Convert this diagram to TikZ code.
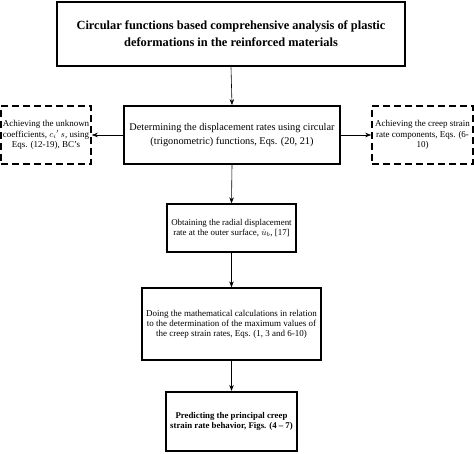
\documentclass[tikz,border=0pt]{standalone}
\usepackage{fontspec}
\setmainfont{Liberation Serif}
\usetikzlibrary{arrows.meta}
\tikzset{
  box/.style={draw, inner sep=1pt, align=center, anchor=center},
  dbox/.style={draw, dashed, dash pattern=on 7pt off 4pt, line width=1.6pt, inner sep=1pt, align=center},
  conn/.style={-{Stealth[length=6pt,width=4.5pt]}, line width=0.6pt}
}
\begin{document}
\begin{tikzpicture}[x=1pt,y=-1pt]
\useasboundingbox (0,0) rectangle (474,453);
\node[box, line width=2.6pt, minimum width=348pt, minimum height=64pt, font=\fontsize{12.4}{17}\selectfont\bfseries] (top) at (231,34) {Circular functions based comprehensive analysis of plastic\\deformations in the reinforced materials};
\node[box, line width=1.8pt, minimum width=216pt, minimum height=58pt, font=\fontsize{10.3}{14}\selectfont] (disp) at (232,135) {Determining the displacement rates using circular\\(trigonometric) functions, Eqs. (20, 21)};
\node[dbox, minimum width=90pt, minimum height=58pt, font=\fontsize{9}{10.2}\selectfont] (left) at (46,135) {Achieving the unknown\\coefficients, $c_i{}'\,s$, using\\Eqs. (12-19), BC's};
\node[dbox, minimum width=101pt, minimum height=58pt, font=\fontsize{9}{10.2}\selectfont] (right) at (422.5,135) {Achieving the creep strain\\rate components, Eqs. (6-\\10)};
\node[box, line width=1.3pt, minimum width=129pt, minimum height=48pt, font=\fontsize{8.9}{10.4}\selectfont] (radial) at (231.5,228) {Obtaining the radial displacement\\rate at the outer surface, $\dot{u}_b$, [17]};
\node[box, line width=1.3pt, minimum width=179pt, minimum height=72pt, font=\fontsize{9}{10}\selectfont] (math) at (231.5,324) {Doing the mathematical calculations in relation\\to the determination of the maximum values of\\the creep strain rates, Eqs. (1, 3 and 6-10)};
\node[box, line width=2.2pt, minimum width=131pt, minimum height=59pt, font=\fontsize{8.8}{10.4}\selectfont\bfseries] (pred) at (231.5,421.5) {Predicting the principal creep\\strain rate behavior, Figs. (4 -- 7)};
\draw[conn] (top.south) -- (disp.north);
\draw[conn] (disp.west) -- (left.east);
\draw[conn] (disp.east) -- (right.west);
\draw[conn] (disp.south) -- (radial.north);
\draw[conn] (radial.south) -- (math.north);
\draw[conn] (math.south) -- (pred.north);
\end{tikzpicture}
\end{document}
